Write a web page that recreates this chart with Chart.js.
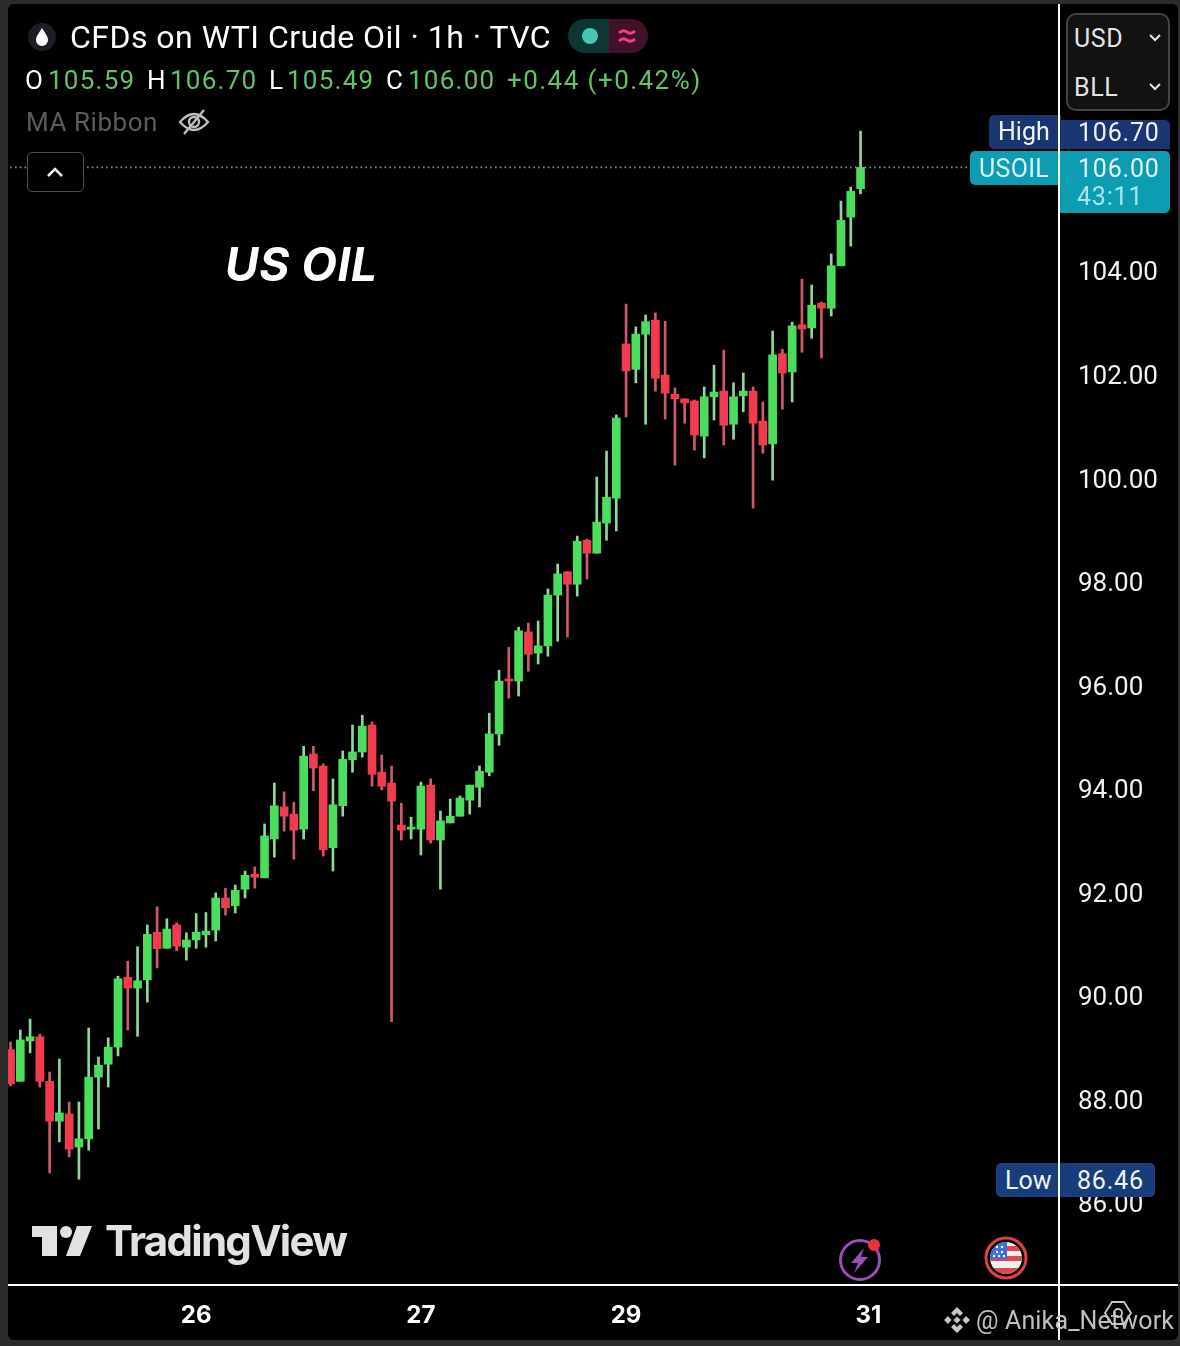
<!DOCTYPE html>
<html><head><meta charset="utf-8"><title>US OIL</title>
<script src="https://cdn.jsdelivr.net/npm/chart.js@4/dist/chart.umd.min.js"></script>
<style>
html,body{margin:0;padding:0;width:1180px;height:1346px;overflow:hidden;background:#2b2b2b;font-family:Roboto,sans-serif;color:#fff}
#frame{position:absolute;left:8px;top:4px;width:1170px;height:1336px;background:#000;border-radius:6px}
#wrap{position:absolute;left:0;top:0;width:1180px;height:1346px}
.t{position:absolute;white-space:nowrap;line-height:1}
.b{position:absolute}
svg{position:absolute;overflow:visible}
.g{color:#5fc46c;letter-spacing:1.25px}
</style></head><body>
<div id="frame"></div>
<div id="wrap"><canvas id="c" width="1180" height="1346"></canvas></div>

<!-- header -->
<svg style="left:28px;top:23px" width="28" height="28"><circle cx="14" cy="14" r="14" fill="#1b1e25"/><path d="M14 5 C17 10 20 13 20 17 A6 6 0 0 1 8 17 C8 13 11 10 14 5Z" fill="#fff"/></svg>
<div class="t" id="title" style="left:70px;top:21px;font-size:32px;letter-spacing:.48px">CFDs on WTI Crude Oil · 1h · TVC</div>
<div class="b" style="left:568px;top:19px;width:41px;height:34px;background:#0e3733;border-radius:17px 0 0 17px"></div>
<div class="b" style="left:609px;top:19px;width:39px;height:34px;background:#43102a;border-radius:0 17px 17px 0"></div>
<svg style="left:581px;top:27px" width="18" height="18"><circle cx="9" cy="9" r="8" fill="#45c7b3"/></svg>
<svg style="left:617px;top:27px" width="20" height="18"><path d="M2 6 Q6 2 10 5 T18 4 M2 14 Q6 10 10 13 T18 12" stroke="#ee3f80" stroke-width="3" fill="none"/></svg>
<div class="t" style="left:25px;top:67px;font-size:26px">O</div>
<div class="t g" style="left:48px;top:67px;font-size:26px">105.59</div>
<div class="t" style="left:147px;top:67px;font-size:26px">H</div>
<div class="t g" style="left:170px;top:67px;font-size:26px">106.70</div>
<div class="t" style="left:269px;top:67px;font-size:26px">L</div>
<div class="t g" style="left:287px;top:67px;font-size:26px">105.49</div>
<div class="t" style="left:386px;top:67px;font-size:26px">C</div>
<div class="t g" style="left:408px;top:67px;font-size:26px">106.00</div>
<div class="t g" style="left:507px;top:67px;font-size:26px;letter-spacing:1.45px">+0.44 (+0.42%)</div>
<div class="t" style="left:26px;top:109px;font-size:26px;color:#5c5c5c;letter-spacing:.55px">MA Ribbon</div>
<svg style="left:178px;top:108px" width="32" height="28" fill="none" stroke="#bdbdbd" stroke-width="2.4"><path d="M2 14 Q16 -2 30 14 Q16 30 2 14Z"/><circle cx="16" cy="14" r="5"/><path d="M6 26 L26 2"/></svg>
<div class="b" style="left:27px;top:152px;width:57px;height:40px;box-sizing:border-box;border:1.5px solid #4b4b4b;border-radius:5px;background:#000"></div>
<svg style="left:46px;top:166px" width="18" height="12" fill="none" stroke="#eee" stroke-width="2.6"><path d="M2 10 L9 3 L16 10"/></svg>
<div class="t" style="left:225px;top:241px;font-size:46px;font-weight:700;font-style:italic;font-family:Inter,Roboto,sans-serif;letter-spacing:.6px">US OIL</div>

<!-- currency box -->
<div class="b" style="left:1066px;top:13px;width:104px;height:98px;box-sizing:border-box;border:2px solid #444;border-radius:10px;background:#121212"></div>
<div class="t" style="left:1074px;top:26px;font-size:25px;color:#e4e4e4;letter-spacing:.6px">USD</div>
<div class="t" style="left:1074px;top:75px;font-size:25px;color:#e4e4e4;letter-spacing:.6px">BLL</div>
<svg style="left:1149px;top:34px" width="12" height="8" fill="none" stroke="#e4e4e4" stroke-width="2"><path d="M1 1 L6 6 L11 1"/></svg>
<svg style="left:1149px;top:83px" width="12" height="8" fill="none" stroke="#e4e4e4" stroke-width="2"><path d="M1 1 L6 6 L11 1"/></svg>

<!-- price badges -->
<div class="b" style="left:989px;top:115px;width:72px;height:34px;background:#1a3672;border-radius:5px 0 0 5px"></div>
<div class="b" style="left:1060px;top:120px;width:110px;height:29px;background:#1a3672;border-radius:0 5px 0 0"></div>
<div class="t" style="left:998px;top:119px;font-size:25px;color:#f2f2f2">High</div>
<div class="t" style="left:1078px;top:120px;font-size:25px;letter-spacing:.8px;color:#f2f2f2">106.70</div>
<div class="b" style="left:970px;top:151px;width:91px;height:34px;background:#0d9db2;border-radius:5px 0 0 5px"></div>
<div class="b" style="left:1060px;top:151px;width:110px;height:62px;background:#0d9db2;border-radius:0 5px 5px 0"></div>
<div class="t" style="left:979px;top:156px;font-size:25px;color:#d8f6fa;letter-spacing:.3px">USOIL</div>
<div class="t" style="left:1078px;top:156px;font-size:25px;letter-spacing:.8px;color:#e6fbff">106.00</div>
<div class="t" style="left:1077px;top:184px;font-size:25px;letter-spacing:.8px;color:#a9e3ec">43:11</div>
<div class="b" style="left:996px;top:1163px;width:159px;height:34px;background:#173d7b;border-radius:5px"></div>
<div class="t" style="left:1005px;top:1168px;font-size:25px;color:#f2f2f2">Low</div>
<div class="t" style="left:1077px;top:1168px;font-size:25px;letter-spacing:.8px;color:#f2f2f2">86.46</div>

<!-- axis lines -->
<div class="b" style="left:1058px;top:4px;width:2px;height:1336px;background:#fff"></div>
<div class="b" style="left:8px;top:1284px;width:1170px;height:2px;background:#fff"></div>

<!-- TradingView logo -->
<svg style="left:32px;top:1225px" width="62" height="32" fill="#e2e2e2"><path d="M0 1 H25 V31 H10 V12 H0Z"/><circle cx="34" cy="7" r="6"/><path d="M45 1 H60 L48 31 H34Z"/></svg>
<div class="t" style="left:105px;top:1220px;font-size:42px;font-weight:700;font-family:Inter,Roboto,sans-serif;color:#e2e2e2;letter-spacing:-1.7px">TradingView</div>

<!-- small icons -->
<svg style="left:838px;top:1238px" width="44" height="44"><circle cx="22" cy="22" r="19.5" fill="none" stroke="#9a4fb5" stroke-width="3"/><path d="M26 10 L13 25 H20 L16 35 L30 19 H23Z" fill="#9a4fb5"/><circle cx="36" cy="7" r="6" fill="#e8333c"/></svg>
<svg style="left:984px;top:1236px" width="44" height="44"><circle cx="22" cy="22" r="20" fill="#000" stroke="#e0404a" stroke-width="3"/><clipPath id="fl"><circle cx="22" cy="22" r="16"/></clipPath><g clip-path="url(#fl)"><rect x="6" y="6" width="32" height="32" fill="#f0f0f0"/><rect x="6" y="10" width="32" height="5" fill="#e2454e"/><rect x="6" y="20" width="32" height="5" fill="#e2454e"/><rect x="6" y="32" width="32" height="6" fill="#e2454e"/><rect x="6" y="6" width="17" height="17" fill="#3a6fd8"/></g><g fill="#fff"><circle cx="13" cy="11" r="1.2"/><circle cx="18" cy="11" r="1.2"/><circle cx="13" cy="16" r="1.2"/><circle cx="18" cy="16" r="1.2"/><circle cx="10" cy="20" r="1.2"/><circle cx="15" cy="20" r="1.2"/><circle cx="20" cy="20" r="1.2"/></g></svg>

<!-- watermark -->
<svg style="left:943px;top:1306px" width="28" height="28" fill="#c8c8c8"><path d="M14 1 L20 7 L17 10 L14 7 L11 10 L8 7Z"/><path d="M14 27 L20 21 L17 18 L14 21 L11 18 L8 21Z"/><path d="M1 14 L5 10 L8.5 14 L5 18Z"/><path d="M27 14 L23 10 L19.5 14 L23 18Z"/><path d="M14 10.5 L17.5 14 L14 17.5 L10.5 14Z"/></svg>
<div class="t" style="left:976px;top:1308px;font-size:25px;color:#c0c0c0;letter-spacing:.15px">@ Anika_Network</div>
<svg style="left:1104px;top:1300px" width="28" height="28" fill="none" stroke="#c8c8c8" stroke-width="1.8"><path d="M8 2 H20 L27 13 L20 24 H8 L1 13Z"/><circle cx="14" cy="13" r="4"/></svg>

<script>
const opens=[88.96,88.35,89.13,89.21,88.35,87.58,87.72,87.08,87.24,88.43,88.68,89.01,90.36,90.15,90.31,91.23,90.92,91.37,90.94,91.08,91.18,91.27,91.89,91.74,92.06,92.35,92.28,93.03,93.65,93.51,93.22,94.67,94.44,92.86,93.67,94.56,94.71,95.23,94.32,94.11,93.30,93.22,93.22,94.07,93.01,93.34,93.47,93.78,94.03,94.32,95.06,96.12,96.08,97.03,96.62,96.76,97.74,98.19,97.95,98.80,98.55,99.13,99.61,102.59,102.10,102.78,103.05,101.99,101.62,101.53,101.49,100.81,101.57,101.68,101.04,101.59,101.68,101.10,100.66,102.40,102.05,102.96,102.90,103.38,103.28,104.10,105.04,105.59];
const highs=[89.11,89.34,89.55,89.26,88.53,88.78,87.95,87.95,89.38,88.82,89.19,90.38,90.67,90.95,91.37,91.72,91.49,91.41,91.22,91.59,91.61,91.99,92.08,92.14,92.41,92.49,93.32,94.11,93.94,93.74,94.82,94.82,94.48,94.19,94.73,95.23,95.42,95.29,94.65,94.44,93.72,93.45,94.13,94.19,93.57,93.80,93.86,94.07,94.44,95.46,96.29,96.73,97.12,97.20,97.24,97.86,98.34,98.19,98.88,98.82,100.02,100.52,101.22,103.36,102.92,103.15,103.19,103.03,101.74,101.53,101.51,101.76,102.18,102.47,101.84,102.03,101.76,101.47,102.84,102.49,103.01,103.84,103.73,103.40,104.33,105.35,105.62,106.70];
const lows=[88.26,88.35,88.90,88.24,86.58,87.18,86.89,86.46,87.02,87.43,88.24,88.84,89.34,89.22,89.88,90.54,90.92,90.87,90.69,90.92,90.94,91.06,91.56,91.60,91.89,92.08,92.28,92.68,93.18,92.64,93.03,93.96,92.70,92.41,93.47,94.32,94.61,94.05,93.98,89.50,93.01,93.03,92.72,92.95,92.06,93.34,93.47,93.51,93.65,94.25,94.84,95.75,95.79,96.27,96.41,96.56,96.85,96.93,97.72,98.05,98.55,98.80,98.98,101.18,101.84,101.04,101.68,101.14,100.25,101.06,100.54,100.39,101.12,100.64,100.75,101.28,99.42,100.48,99.96,101.33,101.47,102.43,102.70,102.32,103.13,104.10,104.48,105.49];
const closes=[88.30,89.15,89.21,88.35,87.58,87.74,87.04,87.24,88.43,88.66,89.01,90.33,90.15,90.29,91.19,90.91,91.29,90.96,91.08,91.23,91.25,91.89,91.70,92.04,92.33,92.29,93.09,93.67,93.47,93.20,94.63,94.40,92.82,93.69,94.57,94.71,95.21,94.28,94.05,93.76,93.20,93.26,94.05,93.01,93.38,93.47,93.82,94.07,94.34,95.06,96.08,96.08,97.05,96.60,96.76,97.74,98.15,97.95,98.78,98.55,99.15,99.63,101.16,102.07,102.78,103.02,101.93,101.64,101.53,101.45,100.83,101.57,101.66,101.02,101.57,101.68,101.06,100.64,102.38,102.03,102.94,102.88,103.34,103.28,104.10,104.98,105.54,106.00];
const priceTicks=[86,88,90,92,94,96,98,100,102,104];
const dateIndex=[19,42,63,87.8];
const dateLabels=['26','27','29','31'];
const lastClose=106.00;

const up='#4ade5c',down='#f23b4f',upWick='#8fd89b',downWick='#cf5a6c';
const isUp=opens.map((o,i)=>closes[i]>=o);
const bodies=opens.map((o,i)=>({x:i,y:[Math.min(o,closes[i]),Math.max(o,closes[i])]}));
const wicks=opens.map((o,i)=>({x:i,y:[lows[i],highs[i]]}));
const noPad=s=>{s.paddingTop=0;s.paddingBottom=0;s.paddingLeft=0;s.paddingRight=0};

new Chart(document.getElementById('c'),{
  type:'bar',
  data:{datasets:[
    {type:'line',data:[{x:-2,y:lastClose},{x:98,y:lastClose}],borderColor:'#5f9ea6',borderWidth:1.6,borderDash:[1.6,3.2],pointRadius:0,order:3},
    {label:'wick',data:wicks,backgroundColor:isUp.map(u=>u?upWick:downWick),barThickness:2,grouped:false,order:2},
    {label:'body',data:bodies,backgroundColor:isUp.map(u=>u?up:down),barThickness:8,grouped:false,order:1,minBarLength:2}
  ]},
  options:{
    responsive:false,animation:false,
    layout:{padding:{left:8,top:4,right:0,bottom:0}},
    plugins:{legend:{display:false},tooltip:{enabled:false}},
    scales:{
      x:{type:'linear',min:-0.26,max:107.21,offset:false,
        grid:{display:false},border:{display:false},
        afterBuildTicks:s=>{s.ticks=dateIndex.map(v=>({value:v}))},
        afterFit:s=>{s.height=61;noPad(s)},
        ticks:{autoSkip:false,maxRotation:0,padding:8,color:'#fff',
          font:{family:'Inter',size:24,weight:'700'},
          callback:v=>dateLabels[dateIndex.indexOf(v)]||''}
      },
      y:{type:'linear',position:'right',min:84.416,max:109.156,
        grid:{display:false,drawTicks:false},border:{display:false},
        afterBuildTicks:s=>{s.ticks=priceTicks.map(v=>({value:v}))},
        afterFit:s=>{s.width=122;noPad(s)},
        ticks:{padding:20,labelOffset:3,color:'#f2f2f2',font:{family:'Roboto',size:26},
          callback:v=>v.toFixed(2)}
      }
    }
  }
});
</script>
</body></html>
